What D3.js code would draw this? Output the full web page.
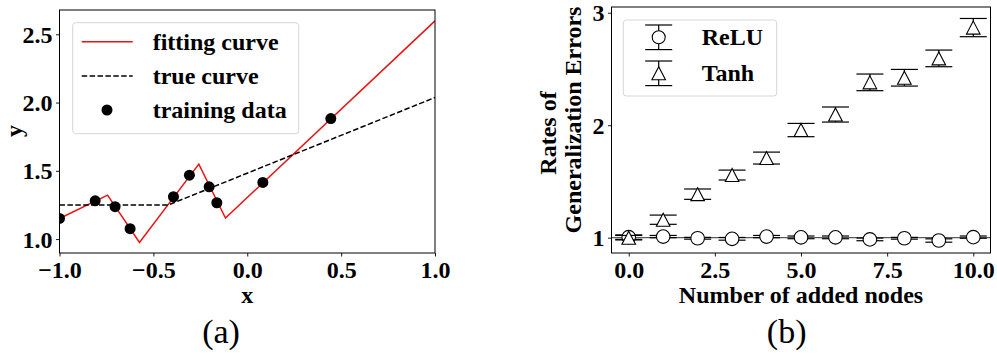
<!DOCTYPE html>
<html>
<head>
<meta charset="utf-8">
<script src="https://cdn.jsdelivr.net/npm/d3@7"></script>
<style>
  html, body { margin: 0; padding: 0; background: #fff; }
  svg { display: block; }
  text { font-family: "Liberation Serif", "Times New Roman", serif; }
</style>
</head>
<body>
<svg id="chart" width="997" height="354"></svg>
<script>
// ---------- Panel (a) data ----------
const trainX = [-1.0, -0.81, -0.704, -0.624, -0.393, -0.308, -0.203, -0.162, 0.083, 0.445];
const trainY = [1.151, 1.28, 1.237, 1.076, 1.31, 1.468, 1.383, 1.266, 1.415, 1.883];
const fitX = [-1.0, -0.744, -0.574, -0.258, -0.116, 1.0];
const fitY = [1.151, 1.322, 0.976, 1.549, 1.154, 2.598];
const trueX = [-1.0, -0.42, 1.0];
const trueY = [1.25, 1.25, 2.037];
const xTicksA = [-1.0, -0.5, 0.0, 0.5, 1.0];
const yTicksA = [1.0, 1.5, 2.0, 2.5];
const legendA = ["fitting curve", "true curve", "training data"];

// ---------- Panel (b) data ----------
const nodes = [0, 1, 2, 3, 4, 5, 6, 7, 8, 9, 10];
const reluMean = [1.005, 1.01, 0.995, 0.99, 1.01, 1.003, 1.003, 0.985, 0.995, 0.975, 1.005];
const reluErr  = [0.02, 0.01, 0.008, 0.012, 0.01, 0.012, 0.012, 0.012, 0.008, 0.015, 0.01];
const tanhMean = [1.0, 1.16, 1.387, 1.557, 1.708, 1.957, 2.095, 2.381, 2.422, 2.594, 2.868];
const tanhErr  = [0.02, 0.041, 0.046, 0.044, 0.053, 0.059, 0.067, 0.074, 0.074, 0.074, 0.081];
const xTicksB = [0, 2.5, 5, 7.5, 10];
const yTicksB = [1, 2, 3];
const legendB = ["ReLU", "Tanh"];

const svg = d3.select("#chart");
const FONT = 24;
const fmtTick = v => d3.format(".1f")(v).replace("-", "\u2212");

function frame(g, x, y) {
  const [x0, x1] = x.range(), [y0, y1] = y.range();
  g.append("rect").attr("x", x0).attr("y", y1).attr("width", x1 - x0).attr("height", y0 - y1)
    .attr("fill", "none").attr("stroke", "#000").attr("stroke-width", 1);
}

function axes(g, x, y, xt, yt, xfmt, yfmt) {
  const [x0, x1] = x.range(), [y0, y1] = y.range();
  const ax = g.append("g").attr("transform", `translate(0,${y0})`)
    .call(d3.axisBottom(x).tickValues(xt).tickSize(3.5).tickPadding(0).tickFormat(xfmt));
  ax.select(".domain").remove();
  ax.selectAll(".tick line").attr("stroke", "#000").attr("stroke-width", 0.9);
  ax.selectAll(".tick text").attr("y", 25).attr("dy", 0)
    .attr("font-size", FONT).attr("font-weight", "bold").attr("fill", "#000")
    .style("font-family", "'Liberation Serif', serif");
  const ay = g.append("g").attr("transform", `translate(${x0},0)`)
    .call(d3.axisLeft(y).tickValues(yt).tickSize(3.5).tickPadding(0).tickFormat(yfmt));
  ay.select(".domain").remove();
  ay.selectAll(".tick line").attr("stroke", "#000").attr("stroke-width", 0.9);
  ay.selectAll(".tick text").attr("x", -7).attr("dy", 8)
    .attr("font-size", FONT).attr("font-weight", "bold").attr("fill", "#000")
    .style("font-family", "'Liberation Serif', serif");
}

// ================= Panel (a) =================
const xA = d3.scaleLinear().domain([-1, 1]).range([59.5, 435]);
const yA = d3.scaleLinear().domain([0.898, 2.678]).range([253, 10]);
const gA = svg.append("g");

svg.append("defs").append("clipPath").attr("id", "clipA")
  .append("rect").attr("x", 59.5).attr("y", 10).attr("width", 435 - 59.5).attr("height", 243);

const line = d3.line().x(d => xA(d[0])).y(d => yA(d[1]));
const plotA = gA.append("g").attr("clip-path", "url(#clipA)");
plotA.append("path").datum(d3.zip(fitX, fitY)).attr("d", line)
  .attr("fill", "none").attr("stroke", "#ee1111").attr("stroke-width", 1.5);
plotA.append("path").datum(d3.zip(trueX, trueY)).attr("d", line)
  .attr("fill", "none").attr("stroke", "#000").attr("stroke-width", 1.5).attr("stroke-dasharray", "5.5,2.4");
plotA.selectAll("circle.train").data(d3.zip(trainX, trainY)).join("circle")
  .attr("class", "train").attr("cx", d => xA(d[0])).attr("cy", d => yA(d[1])).attr("r", 5.5).attr("fill", "#000");

frame(gA, xA, yA);
axes(gA, xA, yA, xTicksA, yTicksA, fmtTick, fmtTick);

gA.append("text").attr("x", (59.5 + 435) / 2).attr("y", 303).attr("text-anchor", "middle")
  .attr("font-size", FONT).attr("font-weight", "bold").text("x");
gA.append("text").attr("transform", "translate(22,131) rotate(-90)").attr("text-anchor", "middle")
  .attr("font-size", FONT).attr("font-weight", "bold").text("y");
gA.append("text").attr("x", 221).attr("y", 343).attr("text-anchor", "middle")
  .attr("font-size", 34).text("(a)");

// legend (a)
const lgA = gA.append("g");
lgA.append("rect").attr("x", 72.7).attr("y", 22.7).attr("width", 226).attr("height", 111).attr("rx", 3)
  .attr("fill", "#fff").attr("fill-opacity", 0.8).attr("stroke", "#d6d6d6").attr("stroke-width", 1);
const rowsA = [41.7, 76, 110];
lgA.append("line").attr("x1", 81.7).attr("x2", 132.7).attr("y1", rowsA[0]).attr("y2", rowsA[0])
  .attr("stroke", "#ee1111").attr("stroke-width", 1.5);
lgA.append("line").attr("x1", 81.7).attr("x2", 132.7).attr("y1", rowsA[1]).attr("y2", rowsA[1])
  .attr("stroke", "#000").attr("stroke-width", 1.5).attr("stroke-dasharray", "5.5,2.4");
lgA.append("circle").attr("cx", 107).attr("cy", rowsA[2]).attr("r", 5.5).attr("fill", "#000");
lgA.selectAll("text").data(legendA).join("text")
  .attr("x", 152.7).attr("y", (d, i) => rowsA[i] + 8)
  .attr("font-size", FONT).attr("font-weight", "bold").text(d => d);

// ================= Panel (b) =================
const xB = d3.scaleLinear().domain([-0.5, 10.5]).range([611.5, 990.5]);
const yB = d3.scaleLinear().domain([0.864, 3.051]).range([253, 7]);
const gB = svg.append("g");
const CAP = 13.5;

gB.append("line").attr("x1", xB(-0.5)).attr("x2", xB(10.5)).attr("y1", yB(1)).attr("y2", yB(1))
  .attr("stroke", "#333").attr("stroke-width", 1);

function errorbars(g, xs, ms, es) {
  const data = d3.zip(xs, ms, es);
  const eg = g.append("g").attr("stroke", "#000").attr("stroke-width", 1.2);
  eg.selectAll("line.v").data(data).join("line").attr("class", "v")
    .attr("x1", d => xB(d[0])).attr("x2", d => xB(d[0]))
    .attr("y1", d => yB(d[1] - d[2])).attr("y2", d => yB(d[1] + d[2]));
  eg.selectAll("line.cu").data(data).join("line").attr("class", "cu")
    .attr("x1", d => xB(d[0]) - CAP).attr("x2", d => xB(d[0]) + CAP)
    .attr("y1", d => yB(d[1] + d[2])).attr("y2", d => yB(d[1] + d[2]));
  eg.selectAll("line.cl").data(data).join("line").attr("class", "cl")
    .attr("x1", d => xB(d[0]) - CAP).attr("x2", d => xB(d[0]) + CAP)
    .attr("y1", d => yB(d[1] - d[2])).attr("y2", d => yB(d[1] - d[2]));
  return data;
}
const tri = "M0,-6.5L-6.8,6.5L6.8,6.5Z";

const relData = errorbars(gB, nodes, reluMean, reluErr);
gB.selectAll("circle.relu").data(relData).join("circle").attr("class", "relu")
  .attr("cx", d => xB(d[0])).attr("cy", d => yB(d[1])).attr("r", 6.8)
  .attr("fill", "#fff").attr("stroke", "#000").attr("stroke-width", 1.1);

const tanData = errorbars(gB, nodes, tanhMean, tanhErr);
gB.selectAll("path.tanh").data(tanData).join("path").attr("class", "tanh")
  .attr("transform", d => `translate(${xB(d[0])},${yB(d[1])})`).attr("d", tri)
  .attr("fill", "#fff").attr("stroke", "#000").attr("stroke-width", 1.1);

frame(gB, xB, yB);
axes(gB, xB, yB, xTicksB, yTicksB, d3.format(".1f"), d3.format("d"));

gB.append("text").attr("x", 801).attr("y", 303).attr("text-anchor", "middle")
  .attr("font-size", FONT).attr("font-weight", "bold").text("Number of added nodes");
gB.append("text").attr("transform", "translate(556,133) rotate(-90)").attr("text-anchor", "middle")
  .attr("font-size", FONT).attr("font-weight", "bold").text("Rates of");
gB.append("text").attr("transform", "translate(581,120) rotate(-90)").attr("text-anchor", "middle")
  .attr("font-size", FONT).attr("font-weight", "bold").text("Generalization Errors");
gB.append("text").attr("x", 786.7).attr("y", 343).attr("text-anchor", "middle")
  .attr("font-size", 34).text("(b)");

// legend (b)
const lgB = gB.append("g");
lgB.append("rect").attr("x", 623.3).attr("y", 20).attr("width", 153.4).attr("height", 76).attr("rx", 3)
  .attr("fill", "#fff").attr("fill-opacity", 0.8).attr("stroke", "#d6d6d6").attr("stroke-width", 1);
const rowsB = [37.3, 73.3];
const lgx = 658.7;
rowsB.forEach((cy, i) => {
  const r = lgB.append("g").attr("stroke", "#000").attr("stroke-width", 1.2);
  r.append("line").attr("x1", lgx).attr("x2", lgx).attr("y1", cy - 12.3).attr("y2", cy + 12.3);
  r.append("line").attr("x1", lgx - CAP).attr("x2", lgx + CAP).attr("y1", cy - 12.3).attr("y2", cy - 12.3);
  r.append("line").attr("x1", lgx - CAP).attr("x2", lgx + CAP).attr("y1", cy + 12.3).attr("y2", cy + 12.3);
  if (i === 0) {
    lgB.append("circle").attr("cx", lgx).attr("cy", cy).attr("r", 6.5)
      .attr("fill", "#fff").attr("stroke", "#000").attr("stroke-width", 1.1);
  } else {
    lgB.append("path").attr("transform", `translate(${lgx},${cy})`).attr("d", tri)
      .attr("fill", "#fff").attr("stroke", "#000").attr("stroke-width", 1.1);
  }
});
lgB.selectAll("text").data(legendB).join("text")
  .attr("x", 701.7).attr("y", (d, i) => rowsB[i] + 8)
  .attr("font-size", FONT).attr("font-weight", "bold").text(d => d);
</script>
</body>
</html>
